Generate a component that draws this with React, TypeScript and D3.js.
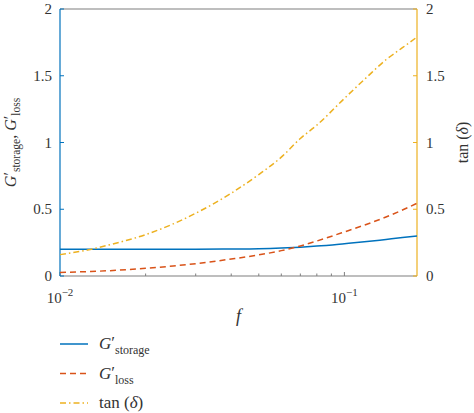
import * as d3 from "d3";

const freq = [0.01, 0.0125, 0.015, 0.02, 0.025, 0.03, 0.04, 0.05, 0.06, 0.07, 0.08, 0.1, 0.12, 0.14, 0.16, 0.18];
const storage = [0.2, 0.2, 0.2, 0.2, 0.2, 0.201, 0.202, 0.204, 0.209, 0.216, 0.224, 0.242, 0.258, 0.274, 0.288, 0.3];
const loss = [0.027, 0.033, 0.04, 0.058, 0.075, 0.092, 0.127, 0.158, 0.19, 0.225, 0.262, 0.33, 0.388, 0.442, 0.494, 0.545];
const tanDelta = [0.16, 0.195, 0.235, 0.31, 0.39, 0.47, 0.62, 0.76, 0.89, 1.03, 1.13, 1.33, 1.49, 1.62, 1.71, 1.79];
const yTicks = [0, 0.5, 1, 1.5, 2];
const xMajor = [0.01, 0.1];

const width = 474;
const height = 413;
const margin = { top: 9, right: 57, bottom: 137, left: 60 };
const txt = { fontFamily: "Liberation Serif" };

const blue = "#0072BD";
const red = "#D95319";
const yellow = "#EDB120";
const ink = "#333";

function fmt(v: number) {
  return v === 0 ? "0" : String(v);
}

export default function App() {
  const x = d3.scaleLog().domain([0.01, 0.18]).range([margin.left, width - margin.right]);
  const y = d3.scaleLinear().domain([0, 2]).range([height - margin.bottom, margin.top]);
  const yRight = d3.scaleLinear().domain([0, 2]).range([height - margin.bottom, margin.top]);
  const [x0, x1] = x.range();
  const [yb, yt] = y.range();
  const xMinor = x.ticks().filter((t) => t >= 0.01 && t <= 0.18 && !xMajor.includes(t));

  const line = (vals: number[], scale: d3.ScaleLinear<number, number>) =>
    d3
      .line<number>()
      .x((_, i) => x(freq[i]))
      .y((v) => scale(v))
      .curve(d3.curveMonotoneX)(vals) ?? "";

  const legend = [
    { color: blue, dash: undefined as string | undefined, key: "storage" },
    { color: red, dash: "6 4", key: "loss" },
    { color: yellow, dash: "6 3 1.5 3", key: "tan" },
  ];

  return (
    <svg width={width} height={height} style={{ position: "absolute", left: 0, top: 0, background: "#fff" }}>
      {/* box */}
      <line x1={x0} x2={x1} y1={yt} y2={yt} stroke="#7f7f7f" strokeWidth={1.2} />
      <line x1={x0} x2={x1} y1={yb} y2={yb} stroke="#7f7f7f" strokeWidth={1.2} />

      {/* x ticks */}
      {xMajor.map((t) => (
        <g key={`xm-${t}`}>
          <line x1={x(t)} x2={x(t)} y1={yb} y2={yb - 4} stroke="#7f7f7f" />
          <text x={x(t)} y={yb + 27} textAnchor="middle" fontSize={15} fill={ink} style={txt}>
            10
            <tspan dy={-7} fontSize={11}>{`\u2212${Math.round(-Math.log10(t))}`}</tspan>
          </text>
        </g>
      ))}
      {xMinor.map((t) => (
        <line key={`xn-${t}`} x1={x(t)} x2={x(t)} y1={yb} y2={yb - 2.5} stroke="#7f7f7f" />
      ))}
      <text x={(x0 + x1) / 2} y={yb + 46} textAnchor="middle" fontSize={18} fontStyle="italic" fill={ink} style={txt}>f</text>

      {/* left axis */}
      <line x1={x0} x2={x0} y1={yb} y2={yt} stroke={blue} strokeWidth={1.2} />
      {yTicks.map((t) => (
        <g key={`yl-${t}`}>
          <line x1={x0} x2={x0 + 4} y1={y(t)} y2={y(t)} stroke={blue} />
          <text x={x0 - 8} y={y(t) + 5} textAnchor="end" fontSize={15} fill={ink} style={txt}>{fmt(t)}</text>
        </g>
      ))}
      <text transform={`translate(16, ${(yb + yt) / 2}) rotate(-90)`} textAnchor="middle" fontSize={16} fill={ink} style={txt}>
        <tspan fontStyle="italic">G</tspan>
        <tspan dy={-1}>′</tspan>
        <tspan dy={5} fontSize={11.5}>storage</tspan>
        <tspan dy={-4}>, </tspan>
        <tspan fontStyle="italic">G</tspan>
        <tspan dy={-1}>′</tspan>
        <tspan dy={5} fontSize={11.5}>loss</tspan>
      </text>

      {/* right axis */}
      <line x1={x1} x2={x1} y1={yb} y2={yt} stroke={yellow} strokeWidth={1.2} />
      {yTicks.map((t) => (
        <g key={`yr-${t}`}>
          <line x1={x1} x2={x1 - 4} y1={yRight(t)} y2={yRight(t)} stroke={yellow} />
          <text x={x1 + 9} y={yRight(t) + 5} textAnchor="start" fontSize={15} fill={ink} style={txt}>{fmt(t)}</text>
        </g>
      ))}
      <text transform={`translate(468, ${(yb + yt) / 2}) rotate(-90)`} textAnchor="middle" fontSize={16} fill={ink} style={txt}>
        tan (<tspan fontStyle="italic">δ</tspan>)
      </text>

      {/* series */}
      <path d={line(storage, y)} fill="none" stroke={blue} strokeWidth={1.5} />
      <path d={line(loss, y)} fill="none" stroke={red} strokeWidth={1.5} strokeDasharray="6 4" />
      <path d={line(tanDelta, yRight)} fill="none" stroke={yellow} strokeWidth={1.5} strokeDasharray="6 3 1.5 3" />

      {/* legend */}
      {legend.map((item, i) => {
        const ly = 344 + i * 29.5;
        return (
          <g key={item.key}>
            <line x1={60} x2={88} y1={ly} y2={ly} stroke={item.color} strokeWidth={1.5} strokeDasharray={item.dash} />
            {item.key === "tan" ? (
              <text x={99} y={ly + 5} fontSize={17} fill={ink} style={txt}>
                tan (<tspan fontStyle="italic">δ</tspan>)
              </text>
            ) : (
              <text x={99} y={ly + 5} fontSize={17} fill={ink} style={txt}>
                <tspan fontStyle="italic">G</tspan>
                <tspan dy={-1}>′</tspan>
                <tspan dy={6} fontSize={12}>{item.key}</tspan>
              </text>
            )}
          </g>
        );
      })}
    </svg>
  );
}
